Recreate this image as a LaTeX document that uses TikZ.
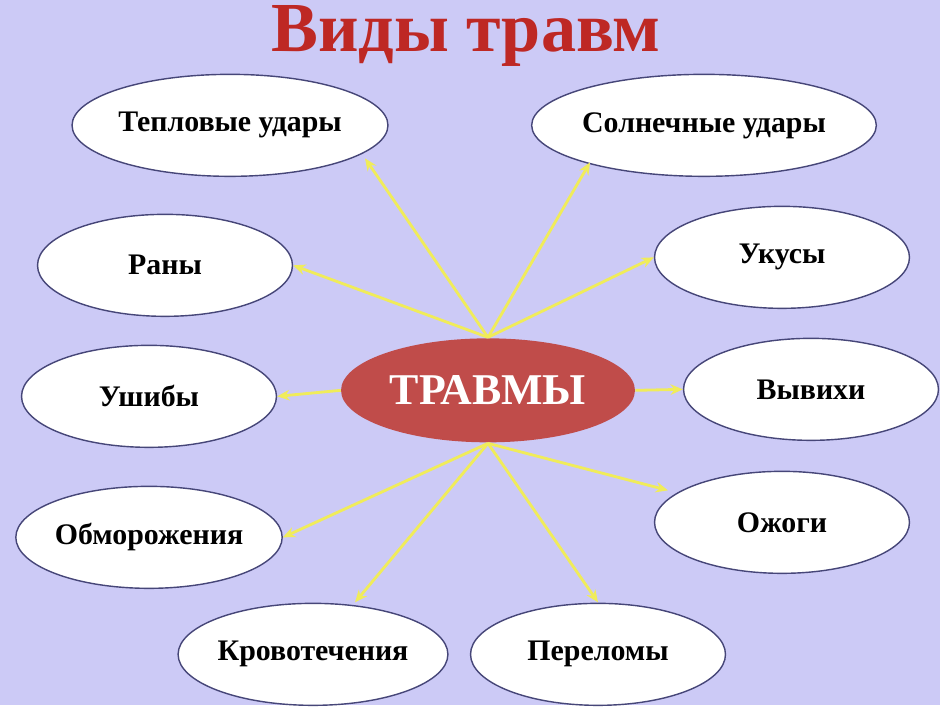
\documentclass[tikz,border=0pt]{standalone}
\usepackage{fontspec}
\setmainfont{Liberation Serif}
\usetikzlibrary{shapes.geometric,arrows.meta}
\definecolor{bgviolet}{RGB}{204,202,246}
\definecolor{hubred}{RGB}{192,76,74}
\definecolor{titlered}{RGB}{190,40,36}
\definecolor{rimblue}{RGB}{70,70,120}
\definecolor{rayyellow}{RGB}{240,236,90}
\begin{document}
\begin{tikzpicture}[x=0.02cm,y=-0.02cm]
	\tikzstyle{leaf}=[ellipse,draw=rimblue,line width=0.8pt,fill=white,minimum width=5.1cm,minimum height=2.04cm,font=\bfseries\fontsize{17}{19}\selectfont,inner sep=0pt]
	\tikzstyle{ray}=[draw=rayyellow,line width=1.6pt,-{Stealth[length=7pt,width=6pt]}]
	\fill [bgviolet] (0,0) rectangle (940,705);
	\node (title) [text=titlered,font=\bfseries\fontsize{40}{42}\selectfont] at (466,36) {Виды травм};
	\node (hub) [ellipse,fill=hubred,minimum width=5.2cm,minimum height=2.08cm,text=white,font=\bfseries\fontsize{25}{28}\selectfont] at (488,390) {ТРАВМЫ};
	\node (heat) [leaf,minimum width=6.32cm] at (230,125) {Тепловые удары};
	\node (sun) [leaf,minimum width=6.46cm] at (704,125) {Солнечные удары};
	\node (wound) [leaf] at (165,265) {Раны};
	\node (bite) [leaf] at (782,257) {Укусы};
	\node (bruise) [leaf] at (149,396) {Ушибы};
	\node (disloc) [leaf] at (811,389) {Вывихи};
	\node (frost) [leaf] at (149,537) {Обморожения};
	\node (burn) [leaf] at (782,522) {Ожоги};
	\node (bleed) [leaf] at (313,654) {Кровотечения};
	\node (fract) [leaf] at (598,654) {Переломы};
	\coordinate (top) at (488,337);
	\coordinate (bot) at (488,443);
	\draw [ray] (top) -- (365,158);
	\draw [ray] (top) -- (590,162);
	\draw [ray] (top) -- (wound.east);
	\draw [ray] (top) -- (bite.west);
	\draw [ray] (hub.west) -- (bruise.east);
	\draw [ray] (hub.east) -- (disloc.west);
	\draw [ray] (bot) -- (frost.east);
	\draw [ray] (bot) -- (355,602);
	\draw [ray] (bot) -- (598,602);
	\draw [ray] (bot) -- (668,490);
\end{tikzpicture}
\end{document}
